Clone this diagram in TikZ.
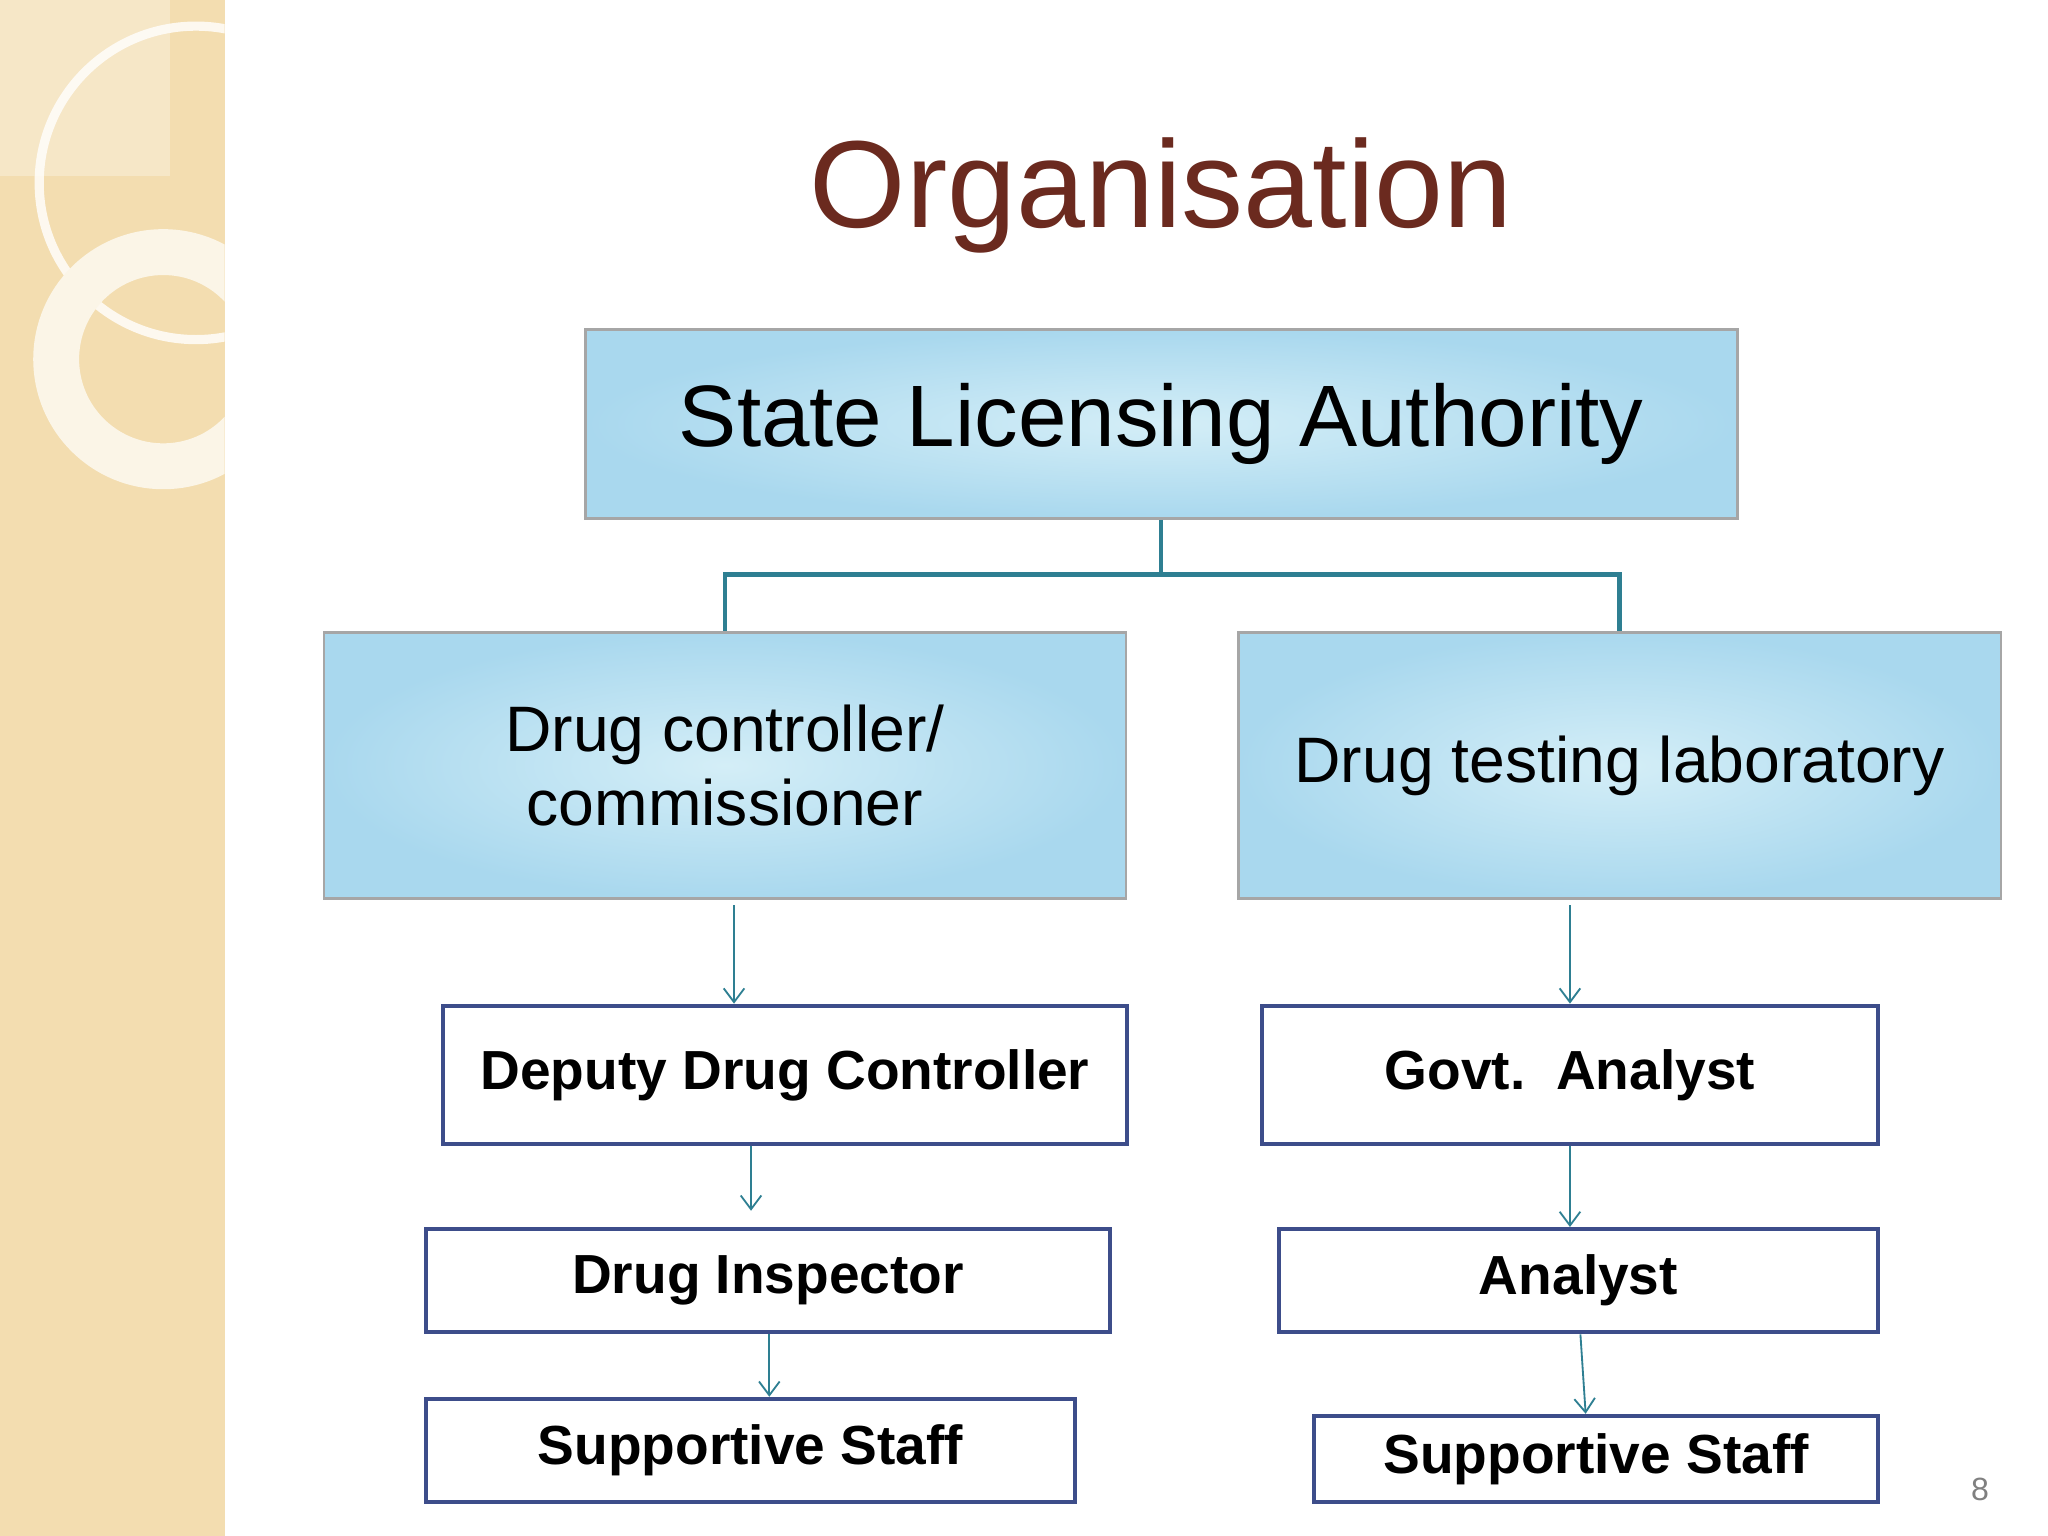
\documentclass[tikz,border=0pt]{standalone}
\usepackage{fontspec}
\setmainfont{Liberation Sans}
\usetikzlibrary{arrows.meta}
\definecolor{titlec}{HTML}{6B2A1F}
\definecolor{bluebox}{HTML}{A9D8EE}
\definecolor{blueboxl}{HTML}{D4EEF7}
\definecolor{edgeb}{HTML}{3D4D8A}
\definecolor{conn}{HTML}{2E7F92}
\definecolor{beige}{HTML}{F3DDB0}
\tikzset{
 px/.style={x=0.02cm,y=-0.02cm},
 shbox/.style={draw=gray!70,line width=1.2pt,inner color=blueboxl,outer color=bluebox,align=center,font=\fontsize{28}{32}\selectfont},
 wbox/.style={draw=edgeb,line width=1.8pt,fill=white,font=\bfseries\fontsize{24}{28}\selectfont},
 arr/.style={draw=conn,line width=0.8pt,-{Straight Barb[length=6pt,width=9pt]}},
 ln/.style={draw=conn,line width=2pt}
}
\begin{document}
\begin{tikzpicture}[px]
\fill[white] (0,0) rectangle (1568,1176);
\useasboundingbox (0,0) rectangle (1568,1176);
\fill[beige] (0,0) rectangle (172,1176);
\begin{scope}
\clip (0,0) rectangle (172,1176);
\draw[white!80!beige,line width=4pt] (150,140) circle (120);
\draw[white!70!beige,line width=20pt] (125,275) circle (82);
\fill[white,opacity=0.3] (0,0) rectangle (130,135);
\end{scope}
\node[text=titlec,font=\fontsize{54}{60}\selectfont] (title) at (889,150) {Organisation};
\node[shbox,minimum width=882*0.02cm,minimum height=145*0.02cm,font=\fontsize{38}{42}\selectfont] (sla) at (889,324.5) {State Licensing Authority};
\node[shbox,minimum width=614*0.02cm,minimum height=204*0.02cm] (dc) at (555,586) {Drug controller/\\commissioner};
\node[shbox,minimum width=584*0.02cm,minimum height=204*0.02cm] (dtl) at (1240,586) {Drug testing laboratory};
\node[wbox,minimum width=524*0.02cm,minimum height=106*0.02cm] (ddc) at (601,823) {Deputy Drug Controller};
\node[wbox,minimum width=472*0.02cm,minimum height=106*0.02cm] (ga) at (1202,823) {Govt.\ \ Analyst};
\node[wbox,minimum width=524*0.02cm,minimum height=79*0.02cm] (di) at (588,980.5) {Drug Inspector};
\node[wbox,minimum width=459*0.02cm,minimum height=79*0.02cm] (an) at (1208.5,980.5) {Analyst};
\node[wbox,minimum width=497*0.02cm,minimum height=79*0.02cm] (ss1) at (574.5,1110.5) {Supportive Staff};
\node[wbox,minimum width=432*0.02cm,minimum height=66*0.02cm] (ss2) at (1222,1117) {Supportive Staff};
\node[text=gray,font=\fontsize{14}{16}\selectfont] (pg) at (1516,1140) {8};
\coordinate (j) at (889,440);
\draw[ln] (sla.south) -- (j);
\draw[ln] (dc.north) |- (j) -| (dtl.north);
\draw[arr] (562,693) -- (ddc.north -| 562,0);
\draw[arr] (1202,693) -- (ga.north);
\draw[arr] (ddc.south -| 575,0) -- (575,927);
\draw[arr] (ga.south) -- (an.north -| 1202,0);
\draw[arr] (di.south -| 589,0) -- (ss1.north -| 589,0);
\draw[arr] (an.south -| 1210,0) -- (ss2.north -| 1214,0);
\end{tikzpicture}
\end{document}
